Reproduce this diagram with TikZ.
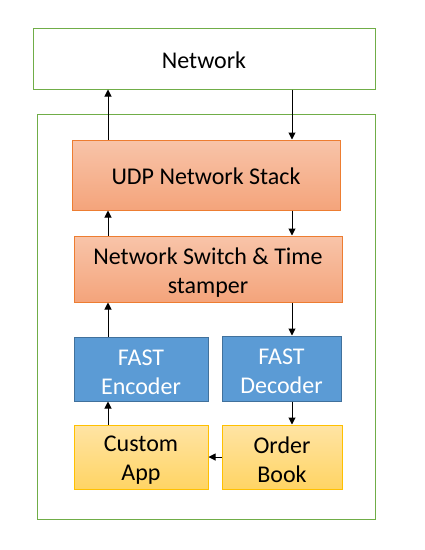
\documentclass[tikz,border=0pt]{standalone}
\usepackage{fontspec}
\setmainfont{Carlito}
\usetikzlibrary{arrows.meta}
\definecolor{grn}{HTML}{70AD47}
\definecolor{orgline}{HTML}{ED7D31}
\definecolor{orgtop}{HTML}{F8C4A9}
\definecolor{orgbot}{HTML}{F4A47B}
\definecolor{blufill}{HTML}{5B9BD5}
\definecolor{bluline}{HTML}{41719C}
\definecolor{yeltop}{HTML}{FFE4A4}
\definecolor{yelbot}{HTML}{FFD464}
\definecolor{yelline}{HTML}{FFC000}
\tikzset{
  txt/.style={font=\fontsize{24}{29}\selectfont, align=center, inner sep=0pt},
  greenbox/.style={draw=grn, line width=1pt, fill=white, rectangle},
  orangebox/.style={draw=orgline, line width=1pt, top color=orgtop, bottom color=orgbot, rectangle},
  bluebox/.style={draw=bluline, line width=1pt, fill=blufill, rectangle},
  yellowbox/.style={draw=yelline, line width=1pt, top color=yeltop, bottom color=yelbot, rectangle},
  arr/.style={line width=1pt, -{Triangle[length=7pt,width=7pt]}},
}
\begin{document}
\begin{tikzpicture}[x=1pt, y=-1pt]
\useasboundingbox[fill=white] (0,0) rectangle (425,550);
\node[greenbox, minimum width=338pt, minimum height=405pt] (outer) at (206,316.5) {};
\node[greenbox, minimum width=342pt, minimum height=61pt] (net) at (204,58.5) {};
\node[orangebox, minimum width=268pt, minimum height=70pt] (udp) at (206,175) {};
\node[orangebox, minimum width=268pt, minimum height=66pt] (sw) at (208,269) {};
\node[bluebox, minimum width=134pt, minimum height=64pt] (enc) at (141,369) {};
\node[bluebox, minimum width=119pt, minimum height=65pt] (dec) at (281.5,368.5) {};
\node[yellowbox, minimum width=134pt, minimum height=64pt] (app) at (141,457) {};
\node[yellowbox, minimum width=120pt, minimum height=64pt] (book) at (282,457) {};
\node[txt, yshift=-2pt] (nettxt) at (net.center) {Network};
\node[txt, yshift=-1pt] (udptxt) at (udp.center) {UDP Network Stack};
\node[txt, yshift=-4pt] (swtxt) at (sw.center) {Network Switch \& Time\\stamper};
\node[txt, text=white, yshift=-3pt] (enctxt) at (enc.center) {FAST\\Encoder};
\node[txt, text=white, yshift=-3pt] (dectxt) at (dec.center) {FAST\\Decoder};
\node[txt, yshift=-3pt] (apptxt) at (app.center) {Custom\\App};
\node[txt, yshift=-3pt] (booktxt) at (book.center) {Order\\Book};
\coordinate (L) at (108,0);
\coordinate (R) at (292,0);
\draw[arr] (udp.north -| L) -- (net.south -| L);
\draw[arr] (net.south -| R) -- (udp.north -| R);
\draw[arr] (sw.north -| L) -- (udp.south -| L);
\draw[arr] (udp.south -| R) -- (sw.north -| R);
\draw[arr] (enc.north -| L) -- (sw.south -| L);
\draw[arr] (sw.south -| R) -- (dec.north -| R);
\draw[arr] (dec.south -| R) -- (book.north -| R);
\draw[arr] (app.north -| L) -- (enc.south -| L);
\draw[arr] (book.west) -- (app.east);
\end{tikzpicture}
\end{document}
